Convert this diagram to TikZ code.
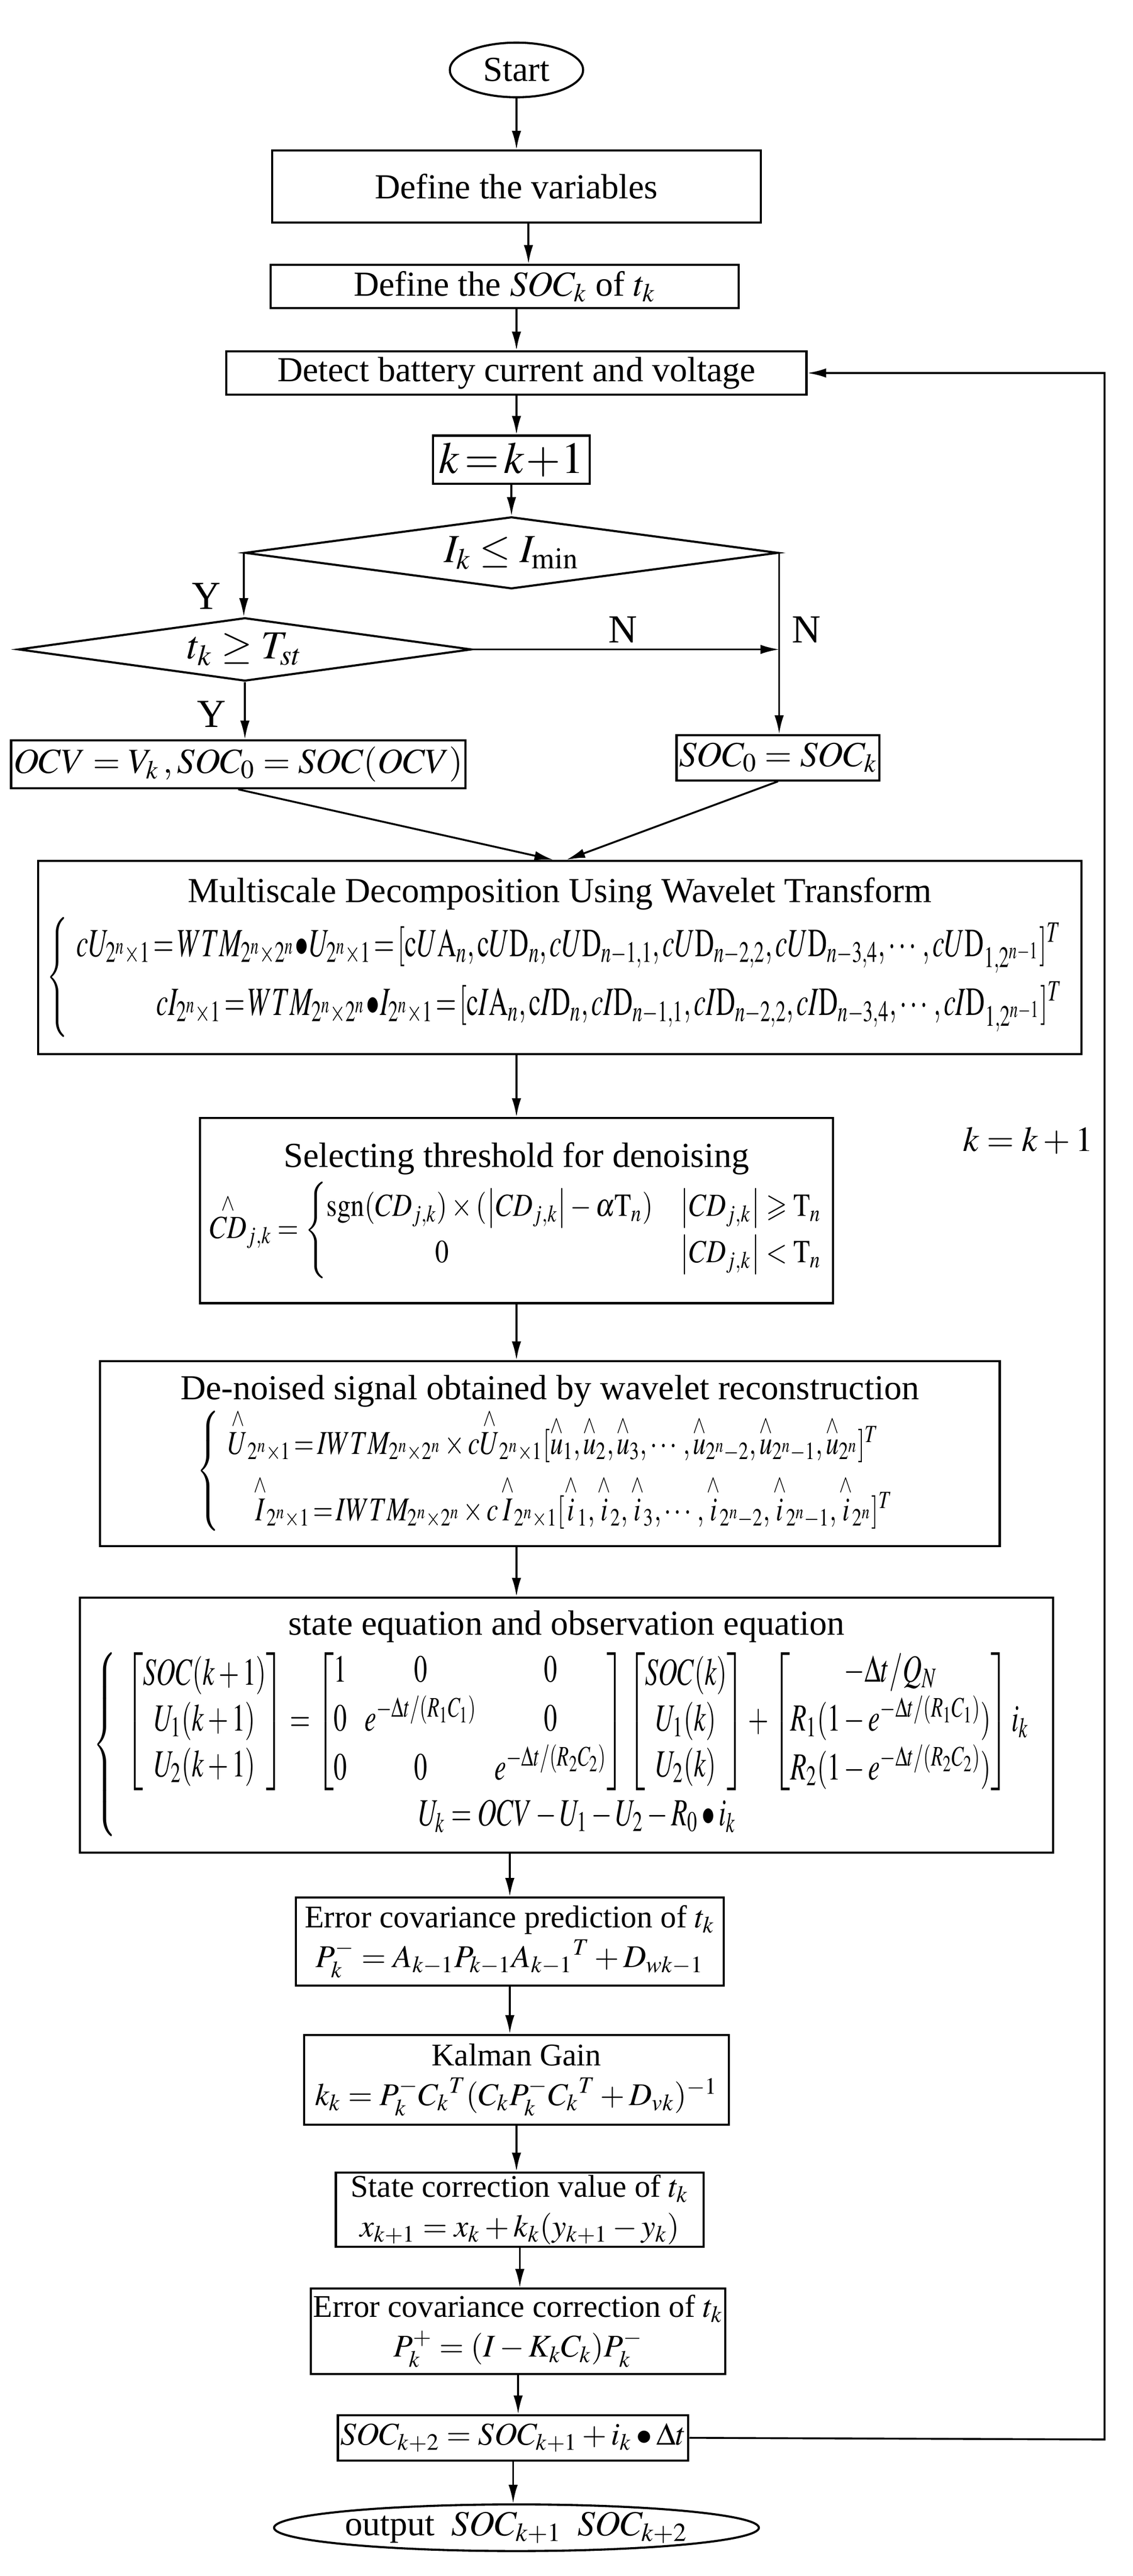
\documentclass[tikz,border=0pt]{standalone}
\usepackage{amsmath}
\usepackage{amsfonts, amssymb}
\usepackage{mathptmx}
\usepackage{fontspec}
\setmainfont{Liberation Serif}
\usepackage{graphicx}
\usetikzlibrary{shapes.geometric,arrows.meta}

\tikzset{
  box/.style={draw,line width=0.9pt,rectangle,inner sep=1pt,align=center,font=\fontsize{15}{18}\selectfont},
  sbox/.style={box,font=\fontsize{13.5}{17}\selectfont},
  dec/.style={draw,line width=0.9pt,diamond,inner sep=0pt,font=\fontsize{17}{20}\selectfont},
  term/.style={draw,line width=0.9pt,ellipse,inner sep=0pt,font=\fontsize{15}{18}\selectfont},
  flow/.style={line width=0.8pt,-{Latex[length=2.8mm,width=1.4mm]}},
  lab/.style={font=\fontsize{17}{20}\selectfont}
}

\begin{document}
\begin{tikzpicture}[x=0.025cm,y=-0.025cm]
    \useasboundingbox (0,0) rectangle (680,1547);

    \node[term,minimum width=2cm,minimum height=0.82cm] (start) at (310,42) {Start};
    \node[box,minimum width=7.33cm,minimum height=1.08cm] (var) at (310,112) {Define the variables};
    \node[box,minimum width=7.02cm,minimum height=0.65cm] (soc) at (303,172) {Define the $SOC_k$ of $t_k$};
    \node[box,minimum width=8.7cm,minimum height=0.65cm] (det) at (310,224) {Detect battery current and voltage};
    \node[box,minimum width=2.35cm,minimum height=0.72cm,font=\fontsize{19}{22}\selectfont] (inc) at (307,276) {$k\!=\!k\!+\!1$};

    % decisions
    \node[dec,aspect=7.4,minimum width=8cm,minimum height=1.08cm] (d1) at (307,332) {$I_k\leq I_{\min}$};
    \node[dec,aspect=7.2,minimum width=6.8cm,minimum height=0.95cm] (d2) at (147,390) {$t_k\geq T_{st}$};
    \node[box,minimum width=5.85cm,minimum height=0.72cm] (ocv) at (143,459) {$OCV=V_k\,,SOC_0=SOC(OCV)$};
    \node[box,minimum width=2.67cm,minimum height=0.68cm] (soc0) at (467,455) {$SOC_0=SOC_k$};

    % wavelet blocks
    \node[box,minimum width=15.65cm,minimum height=2.9cm] (ms) at (336,575) {%
      Multiscale Decomposition Using Wavelet Transform\\[2pt]
      \resizebox*{15.4cm}{1.8cm}{$\left\{\begin{array}{l}
        cU_{2^n\times1}\!=\!WTM_{2^n\times2^n}\!\bullet\! U_{2^n\times1}\!=\![\mathrm{c}U\mathrm{A}_n,\mathrm{c}U\mathrm{D}_n,cU\mathrm{D}_{n-1,1},cU\mathrm{D}_{n-2,2},cU\mathrm{D}_{n-3,4},\cdots,cU\mathrm{D}_{1,2^{n-1}}]^T\\[4pt]
        \qquad\quad cI_{2^n\times1}\!=\!WTM_{2^n\times2^n}\!\bullet\! I_{2^n\times1}\!=\![\mathrm{c}I\mathrm{A}_n,\mathrm{c}I\mathrm{D}_n,cI\mathrm{D}_{n-1,1},cI\mathrm{D}_{n-2,2},cI\mathrm{D}_{n-3,4},\cdots,cI\mathrm{D}_{1,2^{n-1}}]^T
      \end{array}\right.$}};
    \node[box,minimum width=9.5cm,minimum height=2.78cm] (thr) at (310,727) {%
      Selecting threshold for denoising\\[2pt]
      \resizebox*{9.2cm}{1.45cm}{$\overset{\wedge}{CD}_{j,k}=\begin{cases}
        \mathrm{sgn}(CD_{j,k})\times(\left|CD_{j,k}\right|-\alpha\mathrm{T}_n) & \left|CD_{j,k}\right|\geqslant\mathrm{T}_n\\
        \qquad\qquad 0 & \left|CD_{j,k}\right|<\mathrm{T}_n
      \end{cases}$}};
    \node[box,minimum width=13.5cm,minimum height=2.78cm] (rec) at (330,873) {%
      De-noised signal obtained by wavelet reconstruction\\[0pt]
      \resizebox*{10.6cm}{1.85cm}{$\left\{\begin{array}{l}
        \overset{\wedge}{U}_{2^n\times1}\!=\!IWTM_{2^n\times2^n}\times c\overset{\wedge}{U}_{2^n\times1}[\overset{\wedge}{u}_1,\overset{\wedge}{u}_2,\overset{\wedge}{u}_3,\cdots,\overset{\wedge}{u}_{2^n-2},\overset{\wedge}{u}_{2^n-1},\overset{\wedge}{u}_{2^n}]^T\\[4pt]
        \quad\overset{\wedge}{I}_{2^n\times1}\!=\!IWTM_{2^n\times2^n}\times c\,\overset{\wedge}{I}_{2^n\times1}[\overset{\wedge}{i}_1,\overset{\wedge}{i}_2,\overset{\wedge}{i}_3,\cdots,\overset{\wedge}{i}_{2^n-2},\overset{\wedge}{i}_{2^n-1},\overset{\wedge}{i}_{2^n}]^T
      \end{array}\right.$}};

    % model block
    \node[box,minimum width=14.6cm,minimum height=3.83cm] (mod) at (340,1036) {%
      state equation and observation equation\\[2pt]
      \resizebox*{14.2cm}{2.85cm}{$\left\{\begin{array}{c}
        \begin{bmatrix}SOC(k+1)\\ U_1(k+1)\\ U_2(k+1)\end{bmatrix}=
        \begin{bmatrix}1&0&0\\ 0&e^{-\Delta t/(R_1C_1)}&0\\ 0&0&e^{-\Delta t/(R_2C_2)}\end{bmatrix}
        \begin{bmatrix}SOC(k)\\ U_1(k)\\ U_2(k)\end{bmatrix}+
        \begin{bmatrix}-\Delta t/Q_N\\ R_1(1-e^{-\Delta t/(R_1C_1)})\\ R_2(1-e^{-\Delta t/(R_2C_2)})\end{bmatrix}i_k\\[3pt]
        U_k=OCV-U_1-U_2-R_0\bullet i_k
      \end{array}\right.$}};

    % kalman steps
    \node[sbox,minimum width=6.42cm,minimum height=1.32cm] (pre) at (306,1166) {Error covariance prediction of $t_k$\\ $P_k^-=A_{k-1}P_{k-1}{A_{k-1}}^T+D_{wk-1}$};
    \node[sbox,minimum width=6.37cm,minimum height=1.35cm] (gain) at (310,1249) {Kalman Gain\\ $k_k=P_k^-{C_k}^T(C_kP_k^-{C_k}^T+D_{vk})^{-1}$};
    \node[sbox,minimum width=5.52cm,minimum height=1.12cm] (cor) at (312,1327) {State correction value of $t_k$\\ $x_{k+1}=x_k+k_k(y_{k+1}-y_k)$};
    \node[sbox,minimum width=6.15cm,minimum height=1.28cm] (pcor) at (311,1400) {Error covariance correction of $t_k$\\ $P_k^+=(I-K_kC_k)P_k^-$};
    \node[sbox,minimum width=4.85cm,minimum height=0.68cm] (upd) at (308,1464) {$SOC_{k+2}=SOC_{k+1}+i_k\bullet\Delta t$};
    \node[term,minimum width=6.52cm,minimum height=0.7cm] (out) at (310,1518) {output $\;SOC_{k+1}\;\;SOC_{k+2}$};

    % main flow
    \draw[flow] (start) -- (start |- var.north);
    \draw[flow] ([xshift=0.18cm]var.south) -- ([xshift=0.18cm]var.south |- soc.north);
    \draw[flow] (soc.south -| det) -- (det);
    \draw[flow] (det) -- (det.south |- inc.north);
    \draw[flow] (inc) -- (d1);
    \draw[flow] (d1.west) -- (d1.west |- d2.north);
    \node[lab] (ly1) at (124,358) {Y};
    \draw[flow] (d1.east) -- (d1.east |- soc0.north);
    \node[lab] (ln1) at (484,378) {N};
    \draw[flow] (d2.east) -- (d2.east -| d1.east);
    \node[lab] (ln2) at (374,378) {N};
    \draw[flow] (d2) -- (d2.south |- ocv.north);
    \node[lab] (ly2) at (127,429) {Y};
    \coordinate (msl) at ([xshift=-0.1cm]ms.north);
    \coordinate (msr) at ([xshift=0.1cm]ms.north);
    \draw[flow] (ocv.south) -- (msl);
    \draw[flow] (soc0.south) -- (msr);
    \draw[flow] (ms.south -| thr) -- (thr);
    \draw[flow] (thr) -- (thr.south |- rec.north);
    \draw[flow] (rec.south -| thr) -- (thr |- mod.north);
    \draw[flow] (mod.south -| pre) -- (pre);
    \draw[flow] (pre) -- (pre.south |- gain.north);
    \draw[flow] (gain) -- (gain.south |- cor.north);
    \draw[flow] (cor) -- (cor.south |- pcor.north);
    \draw[flow] (pcor) -- (pcor.south |- upd.north);
    \draw[flow] (upd) -- (upd.south |- out.north);

    % feedback loop
    \coordinate (fb) at (663,1465);
    \draw[flow] (upd.east) -- (fb) |- (det.east);
    \node[anchor=east,font=\fontsize{15}{18}\selectfont] (lk) at (661,685) {$k=k+1$};
\end{tikzpicture}
\end{document}
